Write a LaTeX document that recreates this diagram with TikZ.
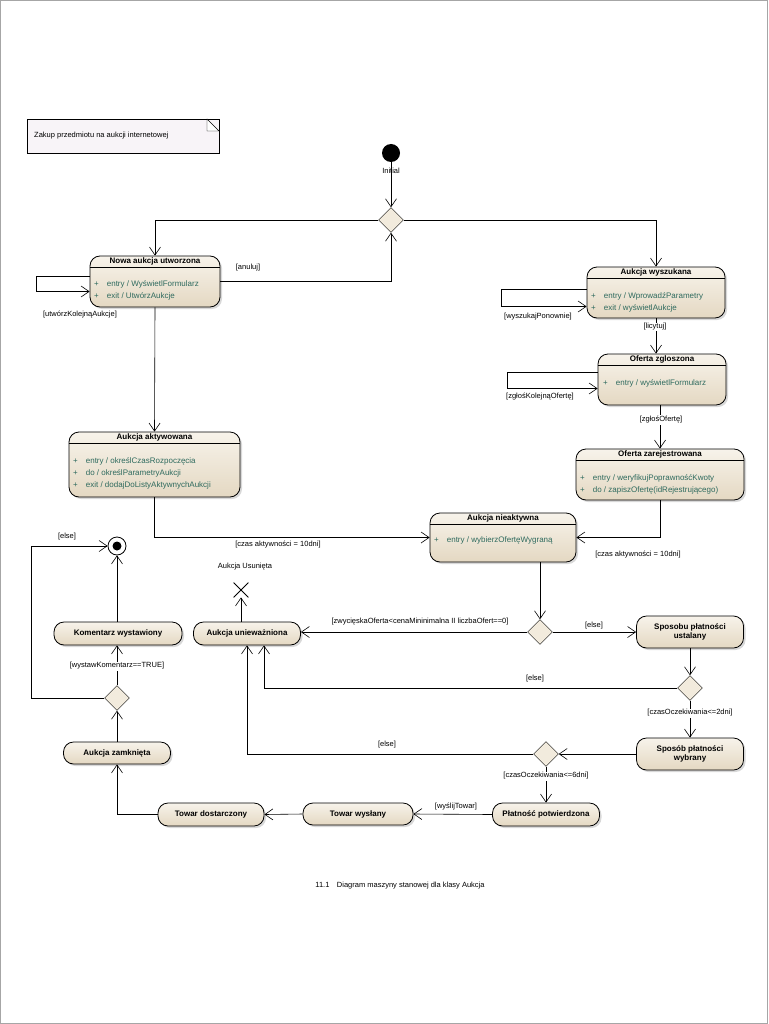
\documentclass[tikz,border=0pt]{standalone}
\usepackage{fontspec}
\setmainfont{Liberation Sans}
\usetikzlibrary{arrows.meta,shapes.geometric,shapes.misc,shadows}
\definecolor{stfill}{HTML}{F2EBDD}
\definecolor{stfill2}{HTML}{E4D8C2}
\definecolor{act}{HTML}{2E6A5E}
\definecolor{notefill}{HTML}{F8F4F8}
\begin{document}
\begin{tikzpicture}[x=1pt,y=-1pt,
  st/.style={draw,line width=0.8pt,rounded corners=10pt,top color=stfill!60!white,bottom color=stfill2,
     drop shadow={shadow xshift=2pt,shadow yshift=-2pt,fill=gray!60},font=\fontsize{8}{9.5}\selectfont\bfseries,align=center,inner sep=1pt},
  dec/.style={draw,diamond,fill=stfill,minimum width=25pt,minimum height=25pt,inner sep=0pt},
  arr/.style={-{Straight Barb[length=8pt,width=11pt]},line width=0.6pt},
  lab/.style={font=\fontsize{7.5}{8.5}\selectfont,inner sep=1pt},
  tt/.style={font=\fontsize{8}{9}\selectfont\bfseries,inner sep=0pt},
  bd/.style={font=\fontsize{8}{9}\selectfont,text=act,anchor=west,inner sep=0pt}]
\useasboundingbox (0,0) rectangle (768,1024);
\draw[gray!70] (0.5,0.5) rectangle (767.5,1023.5);
% note
\node[draw,fill=notefill,minimum width=192pt,minimum height=34pt,inner sep=0pt] (note) at (123,136) {};
\node[lab,anchor=west,font=\fontsize{7.5}{9}\selectfont] (notet) at (33,136) {Zakup przedmiotu na aukcji internetowej};
\draw[fill=white] (207,119) -- (219,131) -- (207,131) -- cycle;
% initial
\node[circle,fill=black,minimum size=18pt,inner sep=0pt] (ini) at (391,153) {};
\node[lab] (inil) at (391,171) {Initial};
\node[dec] (d0) at (391,220) {};
% states
\node[st,minimum width=130pt,minimum height=51pt] (nowa) at (155,281.5) {};
\node[st,minimum width=171pt,minimum height=65pt] (akt) at (154.5,464.5) {};
\node[st,minimum width=138pt,minimum height=51pt] (wysz) at (656,292.5) {};
\node[st,minimum width=128pt,minimum height=51pt] (zgl) at (662,379.5) {};
\node[st,minimum width=168pt,minimum height=51pt] (zarej) at (660,474.5) {};
\node[st,minimum width=146pt,minimum height=49pt] (nieak) at (503,537.5) {};
\foreach \n/\t in {nowa/Nowa aukcja utworzona,akt/Aukcja aktywowana,wysz/Aukcja wyszukana,zgl/Oferta zgloszona,zarej/Oferta zarejestrowana,nieak/Aukcja nieaktywna}{
  \draw[line width=0.8pt] ([yshift=-12pt]\n.north west) -- ([yshift=-12pt]\n.north east);
  \node[tt] at ([yshift=-6pt]\n.north) {\t};}
\node[bd] at (94,284) {+\quad entry / WyświetlFormularz};
\node[bd] at (94,296) {+\quad exit / UtwórzAukcje};
\node[bd] at (73,461) {+\quad entry / określCzasRozpoczęcia};
\node[bd] at (73,473) {+\quad do / określParametryAukcji};
\node[bd] at (73,485) {+\quad exit / dodajDoListyAktywnychAukcji};
\node[bd] at (591,296) {+\quad entry / WprowadźParametry};
\node[bd] at (591,308) {+\quad exit / wyświetlAukcje};
\node[bd] at (603,383) {+\quad entry / wyświetlFormularz};
\node[bd] at (580,478) {+\quad entry / weryfikujPoprawnośćKwoty};
\node[bd] at (580,490) {+\quad do / zapiszOfertę(idRejestrującego)};
\node[bd] at (434,540) {+\quad entry / wybierzOfertęWygraną};
% simple states
\node[st,minimum width=107pt,minimum height=23pt] (uniew) at (247,633.5) {Aukcja unieważniona};
\node[st,minimum width=107pt,minimum height=32pt] (sposu) at (690,632) {Sposobu płatności\\ustalany};
\node[st,minimum width=107pt,minimum height=32pt] (wybr) at (690,754) {Sposób płatności\\wybrany};
\node[st,minimum width=107pt,minimum height=23pt] (plat) at (546,814.5) {Płatność potwierdzona};
\node[st,minimum width=110pt,minimum height=22pt] (tws) at (358,814) {Towar wysłany};
\node[st,minimum width=106pt,minimum height=23pt] (tdo) at (211,814.5) {Towar dostarczony};
\node[st,minimum width=107pt,minimum height=22pt] (zam) at (117,753) {Aukcja zamknięta};
\node[st,minimum width=128pt,minimum height=23pt] (kom) at (118,633.5) {Komentarz wystawiony};
\node[dec] (d1) at (540,632) {};
\node[dec] (d2) at (690,688) {};
\node[dec] (d3) at (546,754) {};
\node[dec] (d4) at (117,698) {};
\node[circle,draw,line width=0.8pt,fill=white,minimum size=18pt,inner sep=0pt] (fin) at (117,546) {};
\fill (fin) circle (4.5pt);
\node[cross out,draw,line width=0.8pt,minimum size=14pt,inner sep=0pt] (xx) at (241,590) {};
\node[lab] (xxl) at (245,567) {Aukcja Usunięta};
% connectors
\draw[arr] (ini) -- (d0.north);
\draw[arr] (d0.west) -| (nowa.north);
\draw[arr] (d0.east) -| (wysz.north);
\draw[arr] (nowa.east) -| (d0.south);
\node[lab] at (248,268) {[anuluj]};
\draw[arr] ([yshift=5pt]nowa.west) -- ++(-53,0) -- ++(0,15) -- ([yshift=-10pt]nowa.west);
\node[lab] at (80,315) {[utwórzKolejnąAukcje]};
\draw[arr] (nowa.south) -- (akt.north);
\draw[arr] (akt.south) |- (nieak.west);
\node[lab] at (278,545) {[czas aktywności = 10dni]};
\draw[arr] ([yshift=3pt]wysz.west) -- ++(-85,0) -- ++(0,17) -- ([yshift=-14pt]wysz.west);
\node[lab] at (538,317) {[wyszukajPonownie]};
\draw[arr] (wysz.south) -- (wysz.south |- zgl.north);
\node[lab,fill=white] at (655,327) {[licytuj]};
\draw[arr] ([yshift=7pt]zgl.west) -- ++(-90,0) -- ++(0,16) -- ([yshift=-9pt]zgl.west);
\node[lab] at (540,397) {[zgłośKolejnąOfertę]};
\draw[arr] (zgl.south -| zarej.north) -- (zarej.north);
\node[lab,fill=white] at (661,420) {[zgłośOfertę]};
\draw[arr] (zarej.south) |- (nieak.east);
\node[lab] at (638,555) {[czas aktywności = 10dni]};
\draw[arr] (nieak.south -| d1.north) -- (d1.north);
\draw[arr] (d1.west) -- (d1.west -| uniew.east);
\node[lab] at (420,622) {[zwycięskaOferta<cenaMininimalna II liczbaOfert==0]};
\draw[arr] (d1.east) -- (sposu.west);
\node[lab] at (594,626) {[else]};
\draw[arr] (sposu.south) -- (d2.north);
\draw[arr] (d2.west) -| ([xshift=17pt]uniew.south);
\node[lab] at (535,679) {[else]};
\draw[arr] (d2.south) -- (wybr.north);
\node[lab,fill=white] at (690,713) {[czasOczekiwania<=2dni]};
\draw[arr] (wybr.west) -- (d3.east);
\draw[arr] (d3.west) -| (uniew.south);
\node[lab] at (387,745) {[else]};
\draw[arr] (d3.south) -- (plat.north);
\node[lab,fill=white] at (546,776) {[czasOczekiwania<=6dni]};
\draw[arr] (plat.west) -- (tws.east);
\node[lab] at (456,807) {[wyślijTowar]};
\draw[arr] (tws.west) -- (tdo.east);
\draw[arr] (tdo.west) -| (zam.south);
\draw[arr] (zam.north) -- (d4.south);
\draw[arr] (d4.north) -- (d4.north |- kom.south);
\node[lab,fill=white] at (117,666) {[wystawKomentarz==TRUE]};
\draw[arr] (kom.north -| fin.south) -- (fin.south);
\draw[arr] (d4.west) -- ++(-73,0) |- (fin.west);
\node[lab] at (67,537) {[else]};
\draw[arr] (uniew.north -| xx) -- (xx.south);
\node[lab,font=\fontsize{7.5}{9}\selectfont] (cap) at (400,886) {11.1\quad Diagram maszyny stanowej dla klasy Aukcja};
\end{tikzpicture}
\end{document}
